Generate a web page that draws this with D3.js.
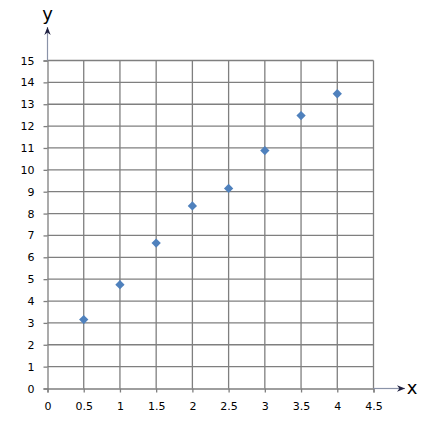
<!DOCTYPE html>
<html>
<head>
<meta charset="utf-8">
<script src="https://cdn.jsdelivr.net/npm/d3@7"></script>
<style>
  body { margin: 0; background: #fff; }
  text { font-family: "DejaVu Sans", Verdana, sans-serif; }
</style>
</head>
<body>
<svg id="chart" width="423" height="424"></svg>
<script>
// data
var xValues = [0.5, 1, 1.5, 2, 2.5, 3, 3.5, 4];
var yValues = [3.15, 4.75, 6.65, 8.35, 9.15, 10.88, 12.48, 13.48];
var xTicks = [0, 0.5, 1, 1.5, 2, 2.5, 3, 3.5, 4, 4.5];
var yTicks = d3.range(0, 16);

var svg = d3.select("#chart");
// plot box (window.top is reserved, so use other names)
var plotLeft = 47.5, plotRight = 373.5, plotTop = 60.5, plotBottom = 388.5;

var x = d3.scaleLinear().domain([0, 4.5]).range([plotLeft, plotRight]);
var y = d3.scaleLinear().domain([0, 15]).range([plotBottom, plotTop]);

var gridColor = "#7f7f7f";

// grid
svg.append("g").selectAll("line")
    .data(xTicks.slice(1))
    .enter().append("line")
    .attr("x1", d => x(d)).attr("x2", d => x(d))
    .attr("y1", plotTop).attr("y2", plotBottom)
    .attr("stroke", gridColor).attr("stroke-width", 1.3);

svg.append("g").selectAll("line")
    .data(yTicks.slice(1))
    .enter().append("line")
    .attr("x1", plotLeft).attr("x2", plotRight)
    .attr("y1", d => y(d)).attr("y2", d => y(d))
    .attr("stroke", gridColor).attr("stroke-width", 1.3);

// axes
var xAxis = d3.axisBottom(x).tickValues(xTicks).tickSize(4).tickPadding(8)
    .tickFormat(d3.format("~g"));
var yAxis = d3.axisLeft(y).tickValues(yTicks).tickSize(4).tickPadding(8);

var gx = svg.append("g").attr("transform", "translate(0," + plotBottom + ")").call(xAxis);
var gy = svg.append("g").attr("transform", "translate(" + plotLeft + ",0)").call(yAxis);

[gx, gy].forEach(function(g) {
    g.select(".domain").attr("stroke", gridColor).attr("stroke-width", 1.3);
    g.selectAll(".tick line").attr("stroke", gridColor).attr("stroke-width", 1.3);
    g.selectAll(".tick text").attr("fill", "#000").style("font-size", "11px");
});
gx.selectAll(".tick text").attr("dy", "0.9em");
gy.selectAll(".tick text").attr("x", -13);

// arrows past the grid
var defs = svg.append("defs");
defs.append("marker")
    .attr("id", "arrow")
    .attr("viewBox", "0 0 10 10")
    .attr("refX", 10).attr("refY", 5)
    .attr("markerWidth", 8).attr("markerHeight", 8)
    .attr("markerUnits", "userSpaceOnUse")
    .attr("orient", "auto")
    .append("path")
    .attr("d", "M0,1 L10,5 L0,9 L3,5 Z")
    .attr("fill", "#1f2040");

svg.append("line")
    .attr("x1", plotLeft).attr("x2", plotLeft)
    .attr("y1", plotTop).attr("y2", 27)
    .attr("stroke", "#8a93a8").attr("stroke-width", 1.2)
    .attr("marker-end", "url(#arrow)");

svg.append("line")
    .attr("x1", plotRight).attr("x2", 405)
    .attr("y1", plotBottom).attr("y2", plotBottom)
    .attr("stroke", "#8a93a8").attr("stroke-width", 1.2)
    .attr("marker-end", "url(#arrow)");

svg.append("text")
    .attr("x", plotLeft).attr("y", 20)
    .attr("text-anchor", "middle")
    .style("font-size", "18px")
    .text("y");

svg.append("text")
    .attr("x", 412).attr("y", plotBottom + 5)
    .attr("text-anchor", "middle")
    .style("font-size", "18px")
    .text("x");

// points
var diamond = d3.symbol().type(d3.symbolDiamond2).size(55);
svg.append("g").selectAll("path")
    .data(xValues.map((d, i) => [d, yValues[i]]))
    .enter().append("path")
    .attr("d", diamond)
    .attr("transform", d => "translate(" + x(d[0]) + "," + y(d[1]) + ")")
    .attr("fill", "#4f81bd");
</script>
</body>
</html>
